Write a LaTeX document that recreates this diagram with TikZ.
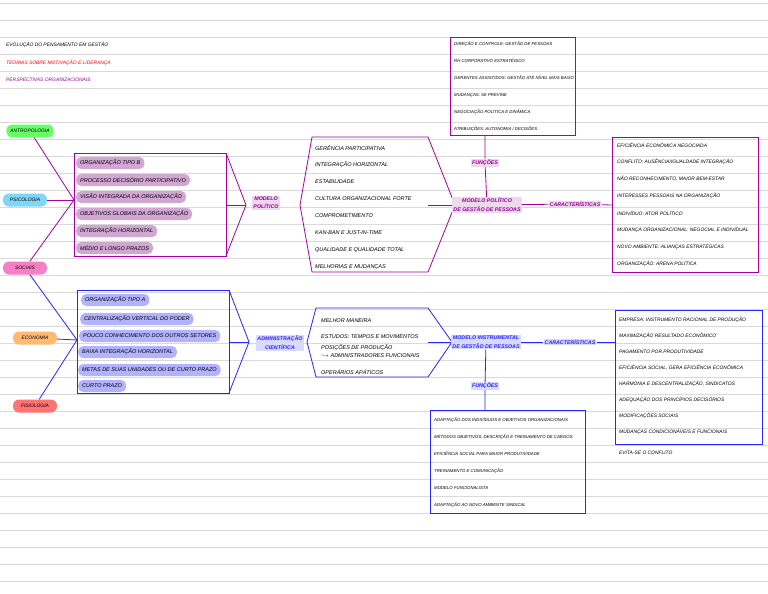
\documentclass[tikz,border=0pt]{standalone}
\usepackage{fontspec}
\setmainfont{Liberation Sans}
\begin{document}
\begin{tikzpicture}[x=1pt,y=-1pt,
  every node/.style={font=\fontsize{4.9}{5}\selectfont\itshape, inner sep=1pt},
  it/.style={anchor=west},
  big/.style={font=\fontsize{5.5}{6}\selectfont\itshape},
  sm/.style={font=\fontsize{4.3}{5}\selectfont\itshape},
  pill/.style={big, rounded corners=5pt, minimum height=12pt, anchor=west, inner xsep=4pt},
  pp/.style={pill, fill=violet!35},
  bp/.style={pill, fill=blue!30},
  pl/.style={draw=violet!70!magenta, line width=0.8pt},
  bl/.style={draw=blue!85, line width=0.8pt},
  ptx/.style={text=violet!80!magenta, fill=violet!15, font=\fontsize{5.3}{6}\selectfont\itshape\bfseries},
  btx/.style={text=blue!85, fill=blue!15, font=\fontsize{5.3}{6}\selectfont\itshape\bfseries},
  src/.style={rounded corners=6pt, minimum height=13pt, minimum width=44pt, inner xsep=4pt}]
\useasboundingbox (0,0) rectangle (768,594);
\fill[white] (0,0) rectangle (768,594);
\foreach \y in {3,20,...,594} \draw[gray!30, line width=0.6pt] (0,\y) -- (768,\y);
% headers
\node[it] (h1) at (5,45) {EVOLUÇÃO DO PENSAMENTO EM GESTÃO};
\node[it, text=red] (h2) at (5,63) {TEORIAS SOBRE MOTIVAÇÃO E LIDERANÇA};
\node[it, text=violet!80!magenta] (h3) at (5,80) {PERSPECTIVAS ORGANIZACIONAIS};
% source pills
\node[src, fill=green!60] (ant) at (30,131) {ANTROPOLOGIA};
\node[src, fill=cyan!50] (psi) at (25,200) {PSICOLOGIA};
\node[src, fill=magenta!50] (soc) at (25,268) {SOCIAIS};
\node[src, fill=orange!55] (eco) at (35,338) {ECONOMIA};
\node[src, fill=red!55] (fis) at (35,406) {FISIOLOGIA};
% purple box
\draw[pl] (74,153) rectangle (226,256);
\coordinate (pL) at (74,200);
\draw[pl] (ant) -- (pL); \draw[pl] (psi) -- (pL); \draw[pl] (soc) -- (pL);
\node[pp] at (76,163) {ORGANIZAÇÃO TIPO B};
\node[pp] at (76,180) {PROCESSO DECISÓRIO PARTICIPATIVO};
\node[pp] at (76,197) {VISÃO INTEGRADA DA ORGANIZAÇÃO};
\node[pp] at (76,214) {OBJETIVOS GLOBAIS DA ORGANIZAÇÃO};
\node[pp] at (76,231) {INTEGRAÇÃO HORIZONTAL};
\node[pp] at (76,248) {MÉDIO E LONGO PRAZOS};
\coordinate (pA) at (246,205);
\draw[pl] (226,153) -- (pA) -- (226,256); \draw[pl] (226,205) -- (pA);
\node[ptx, align=center] (mp) at (266,203) {MODELO\\[2pt]POLÍTICO};
% hexagon 2
\draw[pl] (312,137) -- (428,137) -- (455,205) -- (428,272) -- (312,272) -- (300,205) -- cycle;
\foreach \t [count=\i] in {GERÊNCIA PARTICIPATIVA, INTEGRAÇÃO HORIZONTAL, ESTABILIDADE, CULTURA ORGANIZACIONAL FORTE, COMPROMETIMENTO, KAN-BAN E JUST-IN-TIME, QUALIDADE E QUALIDADE TOTAL, MELHORIAS E MUDANÇAS}
  \node[it, big] at (314,{131+17*\i}) {\t};
\draw[pl] (428,205) -- (455,205);
\node[ptx, align=center] (mpg) at (487,205) {MODELO POLÍTICO\\[3pt]DE GESTÃO DE PESSOAS};
\node[ptx] (car1) at (575,204) {CARACTERÍSTICAS};
\draw[pl] (mpg) -- (car1);
% top box
\draw[pl] (450,37) rectangle (575,135);
\foreach \t [count=\i] in {DIREÇÃO E CONTROLE: GESTÃO DE PESSOAS, RH CORPORATIVO ESTRATÉGICO, GERENTES ASSISTIDOS: GESTÃO ATÉ NÍVEL MAIS BAIXO, MUDANÇAS: SE PREVINE, NEGOCIAÇÃO POLÍTICA E DINÂMICA, ATRIBUIÇÕES: AUTONOMIA / DECISÕES}
  \node[it, sm] at (453,{27+17*\i}) {\t};
\node[ptx] (fun1) at (485,163) {FUNÇÕES};
\coordinate (tb) at (485,135);
\draw[pl] (tb) -- (fun1) -- (mpg);
% right box
\draw[pl] (612,137) rectangle (758,272);
\draw[pl] (car1) -- (612,205);
\foreach \t [count=\i] in {EFICIÊNCIA ECONÔMICA NEGOCIADA, CONFLITO: AUSÊNCIA/IGUALDADE INTEGRAÇÃO, {NÃO RECONHECIMENTO, MAIOR BEM-ESTAR}, INTERESSES PESSOAIS NA ORGANIZAÇÃO, INDIVÍDUO: ATOR POLÍTICO, MUDANÇA ORGANIZACIONAL: NEGOCIAL E INDIVIDUAL, NOVO AMBIENTE: ALIANÇAS ESTRATÉGICAS, ORGANIZAÇÃO: ARENA POLÍTICA}
  \node[it] at (616,{128+17*\i}) {\t};
% blue box
\draw[bl] (77,290) rectangle (229,393);
\coordinate (bL) at (77,340);
\draw[bl] (soc) -- (bL); \draw[bl] (eco) -- (bL); \draw[bl] (fis) -- (bL);
\node[bp] at (81,300) {ORGANIZAÇÃO TIPO A};
\node[bp] at (80,319) {CENTRALIZAÇÃO VERTICAL DO PODER};
\node[bp] at (79,336) {POUCO CONHECIMENTO DOS OUTROS SETORES};
\node[bp] at (78,352) {BAIXA INTEGRAÇÃO HORIZONTAL};
\node[bp] at (78,370) {METAS DE SUAS UNIDADES OU DE CURTO PRAZO};
\node[bp] at (78,386) {CURTO PRAZO};
\coordinate (bA) at (249,342);
\draw[bl] (229,290) -- (bA) -- (229,393); \draw[bl] (229,342) -- (bA);
\node[btx, align=center] (ac) at (280,343) {ADMINISTRAÇÃO\\[3pt]CIENTÍFICA};
% hexagon 3
\draw[bl] (316,308) -- (428,308) -- (452,342) -- (428,377) -- (316,377) -- (307,342) -- cycle;
\draw[bl] (428,342) -- (452,342);
\node[it, big] at (320,321) {MELHOR MANEIRA};
\node[it, big] at (320,337) {ESTUDOS: TEMPOS E MOVIMENTOS};
\node[it, big] at (320,348) {POSIÇÕES DE PRODUÇÃO};
\node[it, big] at (320,356) {$\hookrightarrow$ ADMINISTRADORES FUNCIONAIS};
\node[it, big] at (320,372) {OPERÁRIOS APÁTICOS};
\node[btx, align=center] (mig) at (486,342) {MODELO INSTRUMENTAL\\[3pt]DE GESTÃO DE PESSOAS};
\node[btx] (car2) at (570,342) {CARACTERÍSTICAS};
\draw[bl] (mig) -- (car2) -- (615,342);
\draw[bl] (615,310) rectangle (762,444);
\foreach \t [count=\i] in {EMPRESA: INSTRUMENTO RACIONAL DE PRODUÇÃO, MAXIMIZAÇÃO RESULTADO ECONÔMICO, PAGAMENTO POR PRODUTIVIDADE, {EFICIÊNCIA SOCIAL, GERA EFICIÊNCIA ECONÔMICA}, {HARMONIA E DESCENTRALIZAÇÃO, SINDICATOS}, ADEQUAÇÃO DOS PRINCÍPIOS DECISÓRIOS, MODIFICAÇÕES SOCIAIS, MUDANÇAS CONDICIONÁVEIS E FUNCIONAIS}
  \node[it] at (618,{304+16*\i}) {\t};
\node[it] (evi) at (618,453) {EVITA-SE O CONFLITO};
\node[btx] (fun2) at (485,386) {FUNÇÕES};
\coordinate (bb) at (485,410);
\draw[bl] (mig) -- (fun2) -- (bb);
\draw[bl] (430,410) rectangle (585,513);
\foreach \t [count=\i] in {ADAPTAÇÃO DOS INDIVÍDUOS E OBJETIVOS ORGANIZACIONAIS, MÉTODOS OBJETIVOS: DESCRIÇÃO E TREINAMENTO DE CARGOS, EFICIÊNCIA SOCIAL PARA MAIOR PRODUTIVIDADE, TREINAMENTO E COMUNICAÇÃO, MODELO FUNCIONALISTA, ADAPTAÇÃO AO NOVO AMBIENTE SINDICAL}
  \node[it, sm] at (433,{403+17*\i}) {\t};
\end{tikzpicture}
\end{document}
